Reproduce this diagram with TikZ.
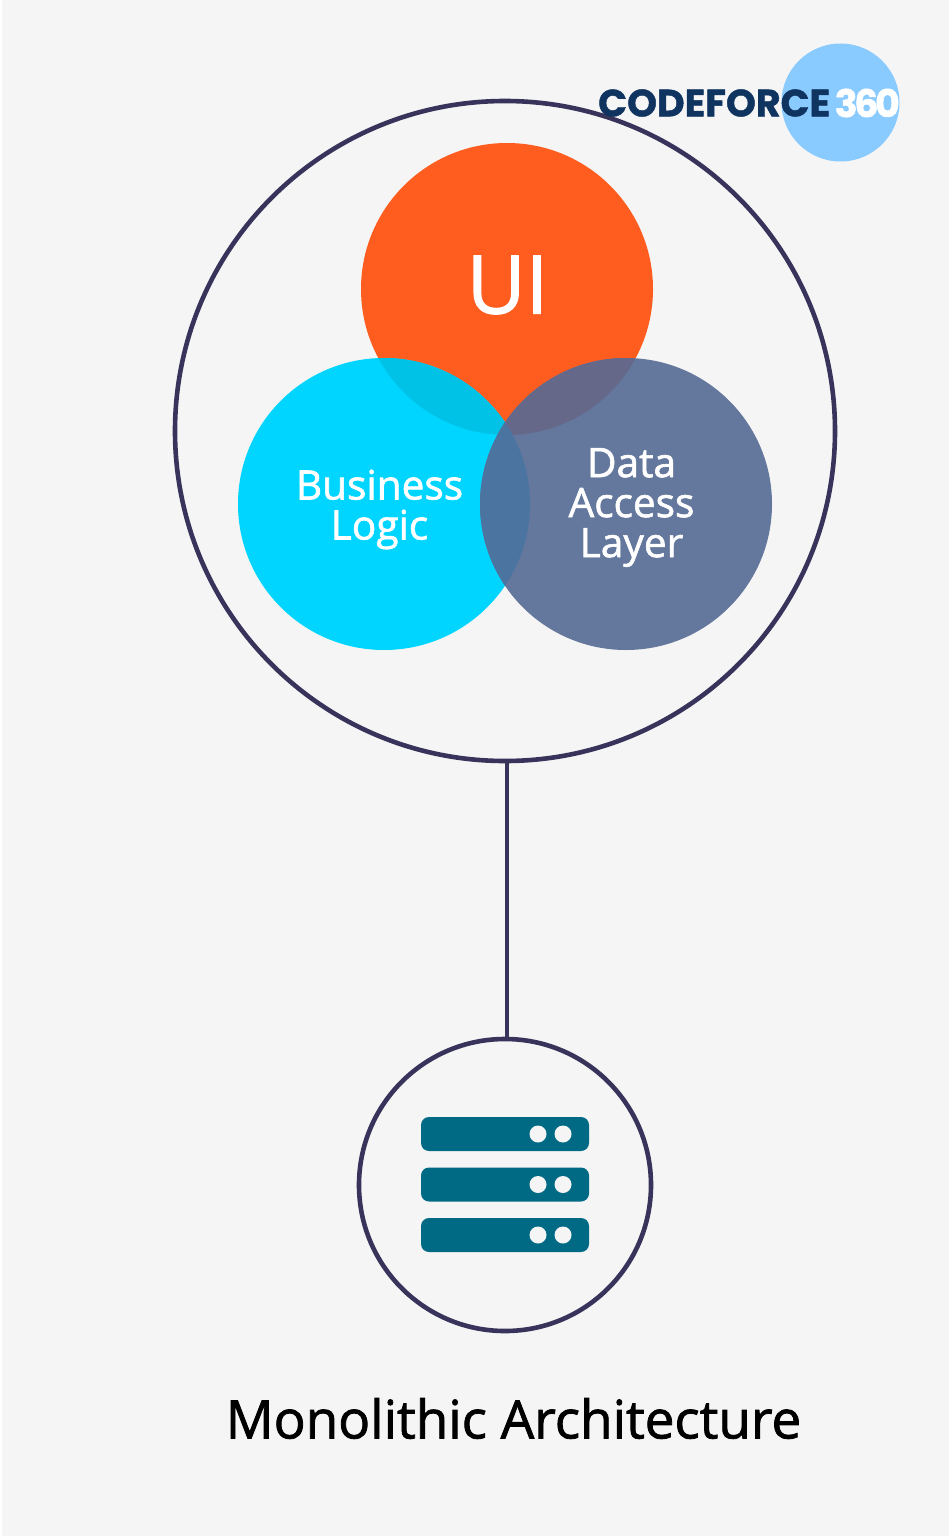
\documentclass[tikz,border=0pt]{standalone}
\usepackage{fontspec}
\setmainfont{Open Sans}[FakeBold=1.5]
\newfontfamily\logofont{Poppins}[BoldFeatures={FakeBold=1.2}]
\newfontfamily\numfont{Poppins}[LetterSpace=-9,BoldFeatures={FakeBold=1.2,LetterSpace=-9}]
\definecolor{bgc}{HTML}{F5F5F5}
\definecolor{ring}{HTML}{38335A}
\definecolor{uic}{HTML}{FF5C1F}
\definecolor{blc}{HTML}{00D5FF}
\definecolor{dac}{HTML}{64779D}
\definecolor{uibl}{HTML}{00C2E6}
\definecolor{uida}{HTML}{66688A}
\definecolor{blda}{HTML}{4C74A0}
\definecolor{srv}{HTML}{006A84}
\definecolor{lgc}{HTML}{8ACBFF}
\definecolor{lgt}{HTML}{0F3460}
\tikzset{
 x=1pt,y=-1pt,
 disc/.style={circle,inner sep=0pt,outer sep=0pt,minimum size=292pt,draw=none},
 ringc/.style={circle,inner sep=0pt,outer sep=0pt,draw=ring,line width=4.6pt},
 label/.style={text=white,align=center,inner sep=0pt},
 rack/.style={fill=srv,rounded corners=8pt},
 led/.style={circle,fill=bgc,inner sep=0pt,minimum size=17pt},
 wire/.style={draw=ring,line width=4.6pt}
}
\begin{document}
\begin{tikzpicture}
\useasboundingbox (0,0) rectangle (949,1536);
\fill[white] (0,0) rectangle (949,1536);
\fill[bgc] (2,0) rectangle (949,1536);
% logo disc
\node[disc,fill=lgc,minimum size=118pt] (logo) at (840.5,102.5) {};
% outer rings
\node[ringc,minimum size=660pt] (outer) at (505,431) {};
\node[ringc,minimum size=292pt] (db) at (505,1185) {};
\draw[wire] (outer.south -| 507,0) -- (db.north -| 507,0);
% venn
\node[disc,fill=uic] (ui) at (507,289) {};
\node[disc,fill=blc] (bl) at (384,504) {};
\node[disc,fill=dac] (da) at (626,504) {};
\begin{scope}
 \clip (507,289) circle (146);
 \fill[uibl] (384,504) circle (146);
 \fill[uida] (626,504) circle (146);
\end{scope}
\begin{scope}
 \clip (384,504) circle (146);
 \fill[blda] (626,504) circle (146);
\end{scope}
% labels
\node[label,font=\fontsize{81}{81}\selectfont] (uit) at (507.5,285) {UI};
\node[label,font=\fontsize{40.6}{40}\selectfont] (blt) at (379.5,509.5) {Business\\Logic};
\node[label,font=\fontsize{40.6}{40}\selectfont] (dat) at (631.5,507.5) {Data\\Access\\Layer};
% server
\foreach \n/\y in {a/1134,b/1184.5,c/1235}{
 \node[rack,minimum width=168pt,minimum height=34pt,inner sep=0pt] (r\n) at (505,\y) {};
 \node[led] (l\n) at (538,\y) {};
 \node[led] (m\n) at (563,\y) {};
}
% logo text
\node[inner sep=0pt,anchor=west,text=lgt,font=\logofont\bfseries\fontsize{38}{38}\selectfont] (lgo) at (598,103) {CODEFORCE};
\node[inner sep=0pt,anchor=east,text=white,font=\numfont\bfseries\fontsize{38}{38}\selectfont] (lgn) at (900,103) {360};
% caption
\node[inner sep=0pt,text=black,font=\fontsize{53}{53}\selectfont] (cap) at (513.5,1418.5) {Monolithic Architecture};
\end{tikzpicture}
\end{document}
